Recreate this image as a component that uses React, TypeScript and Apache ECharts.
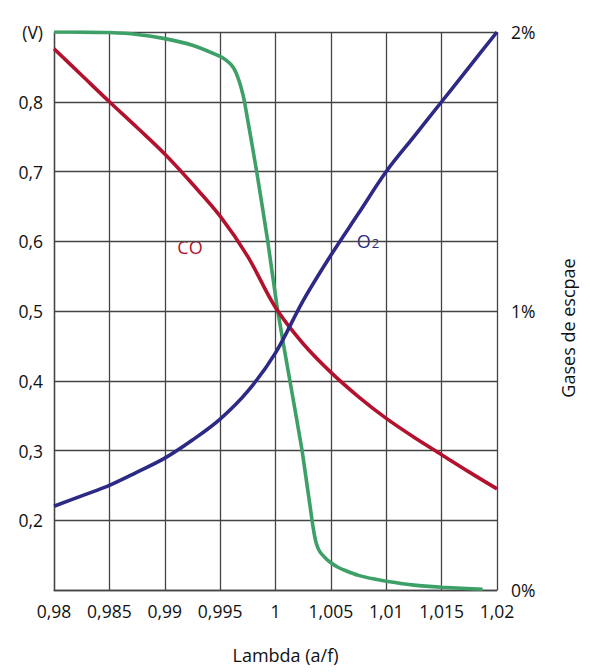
import React, { useEffect, useRef } from "react";
import * as echarts from "echarts";

// Lambda (a/f) axis ticks
const xMin = 0.98;
const xMax = 1.02;
const xStep = 0.005;

// CO curve (left axis, V)
const coLambda = [0.98, 0.9825, 0.985, 0.9875, 0.99, 0.9925, 0.995, 0.9975, 1.0, 1.0025, 1.005, 1.0075, 1.01, 1.0125, 1.015, 1.0175, 1.02];
const coValues = [0.876, 0.838, 0.8, 0.763, 0.725, 0.682, 0.636, 0.578, 0.505, 0.453, 0.412, 0.377, 0.346, 0.319, 0.294, 0.269, 0.245];

// O2 curve
const o2Lambda = [0.98, 0.9825, 0.985, 0.9875, 0.99, 0.9925, 0.995, 0.9975, 1.0, 1.0025, 1.005, 1.0075, 1.01, 1.0125, 1.015, 1.0175, 1.02];
const o2Values = [0.22, 0.235, 0.25, 0.269, 0.289, 0.315, 0.345, 0.385, 0.44, 0.515, 0.58, 0.64, 0.7, 0.75, 0.8, 0.85, 0.9];

// Sensor voltage curve (green)
const sensorLambda = [0.98, 0.9825, 0.985, 0.9875, 0.99, 0.9925, 0.995, 0.9955, 0.996, 0.9963, 0.9966, 0.9969, 0.9972, 0.9983, 0.9993, 1.0002, 1.0013, 1.0024, 1.0033, 1.0035, 1.0037, 1.004, 1.0045, 1.005, 1.0056, 1.0063, 1.0075, 1.0088, 1.01, 1.0125, 1.015, 1.0187];
const sensorValues = [0.9, 0.8998, 0.8992, 0.8965, 0.8905, 0.881, 0.865, 0.86, 0.853, 0.846, 0.835, 0.82, 0.8, 0.7, 0.6, 0.5, 0.4, 0.3, 0.2, 0.18, 0.166, 0.155, 0.146, 0.139, 0.133, 0.128, 0.121, 0.116, 0.1125, 0.107, 0.104, 0.101];

// Right axis (gases)
const gasMin = 0;
const gasMax = 2;
const gasStep = 1;

// Left axis (V)
const vMin = 0.1;
const vMax = 0.9;
const vStep = 0.1;

const xName = "Lambda (a/f)";
const rightName = "Gases de escpae";
const topLabel = "(V)";
const coLabel = "CO";

const RED = "#b3122e";
const BLUE = "#2c2a85";
const GREEN = "#3da066";
const GRID = "#444444";
const FONT = "Open Sans";

const zip = (xs: number[], ys: number[]) => xs.map((x, i) => [x, ys[i]]);
const comma = (v: number, d: number) => String(+v.toFixed(d)).replace(".", ",");

export default function App() {
  const ref = useRef<HTMLDivElement>(null);
  useEffect(() => {
    if (!ref.current) return;
    const chart = echarts.init(ref.current, undefined, { renderer: "svg" });
    chart.setOption({
      animation: false,
      grid: { left: 54, right: 93, top: 32, bottom: 82, containLabel: false, outerBoundsMode: "none" },
      xAxis: {
        type: "value",
        min: xMin,
        max: xMax,
        interval: xStep,
        name: xName,
        nameLocation: "middle",
        nameGap: 56,
        nameTextStyle: { fontFamily: FONT, fontSize: 18, color: "#111", padding: [0, 0, 0, 20] },
        axisLine: { show: true, lineStyle: { color: GRID, width: 1.3 } },
        axisTick: { show: false },
        axisLabel: {
          fontFamily: FONT,
          fontSize: 17.5,
          color: "#111",
          margin: 12,
          formatter: (v: number) => comma(v, 3),
        },
        splitLine: { show: true, lineStyle: { color: GRID, width: 1.3 } },
      },
      yAxis: [
        {
          type: "value",
          min: vMin,
          max: vMax,
          interval: vStep,
          position: "left",
          axisLine: { show: true, lineStyle: { color: GRID, width: 1.3 } },
          axisTick: { show: false },
          axisLabel: {
            fontFamily: FONT,
            fontSize: 17.5,
            color: "#111",
            margin: 11,
            formatter: (v: number) => {
              if (Math.abs(v - vMax) < 1e-6) return topLabel;
              if (Math.abs(v - vMin) < 1e-6) return "";
              return comma(v, 1);
            },
          },
          splitLine: { show: true, lineStyle: { color: GRID, width: 1.3 } },
        },
        {
          type: "value",
          min: gasMin,
          max: gasMax,
          interval: gasStep,
          position: "right",
          name: rightName,
          nameLocation: "middle",
          nameRotate: 90,
          nameGap: 62,
          nameTextStyle: { fontFamily: FONT, fontSize: 18, color: "#111", padding: [0, 34, 0, 0] },
          axisLine: { show: false },
          axisTick: { show: false },
          axisLabel: {
            fontFamily: FONT,
            fontSize: 17.5,
            color: "#111",
            margin: 14,
            formatter: (v: number) => `${v}%`,
          },
          splitLine: { show: false },
        },
      ],
      series: [
        {
          type: "line",
          data: zip(sensorLambda, sensorValues),
          showSymbol: false,
          smooth: 0.15,
          lineStyle: { color: GREEN, width: 3.6 },
          z: 2,
        },
        {
          type: "line",
          data: zip(coLambda, coValues),
          showSymbol: false,
          smooth: 0.35,
          lineStyle: { color: RED, width: 3.6 },
          z: 3,
        },
        {
          type: "line",
          data: zip(o2Lambda, o2Values),
          showSymbol: false,
          smooth: 0.35,
          lineStyle: { color: BLUE, width: 3.6 },
          z: 4,
        },
      ],
      graphic: [
        {
          type: "text",
          x: 190,
          y: 247,
          style: {
            text: coLabel,
            fill: RED,
            fontFamily: FONT,
            fontSize: 18,
            textAlign: "center",
            textVerticalAlign: "middle",
          },
        },
        {
          type: "text",
          x: 368,
          y: 241,
          style: {
            text: "{a|O}{b|2}",
            fill: BLUE,
            fontFamily: FONT,
            fontSize: 18,
            textAlign: "center",
            textVerticalAlign: "middle",
            rich: {
              a: { fill: BLUE, fontFamily: FONT, fontSize: 18, verticalAlign: "bottom" },
              b: { fill: BLUE, fontFamily: FONT, fontSize: 13, verticalAlign: "bottom", padding: [0, 0, 1, 1] },
            },
          },
        },
      ],
    });
    return () => chart.dispose();
  }, []);
  return <div ref={ref} style={{ position: "absolute", left: 0, top: 0, width: 590, height: 672 }} />;
}
